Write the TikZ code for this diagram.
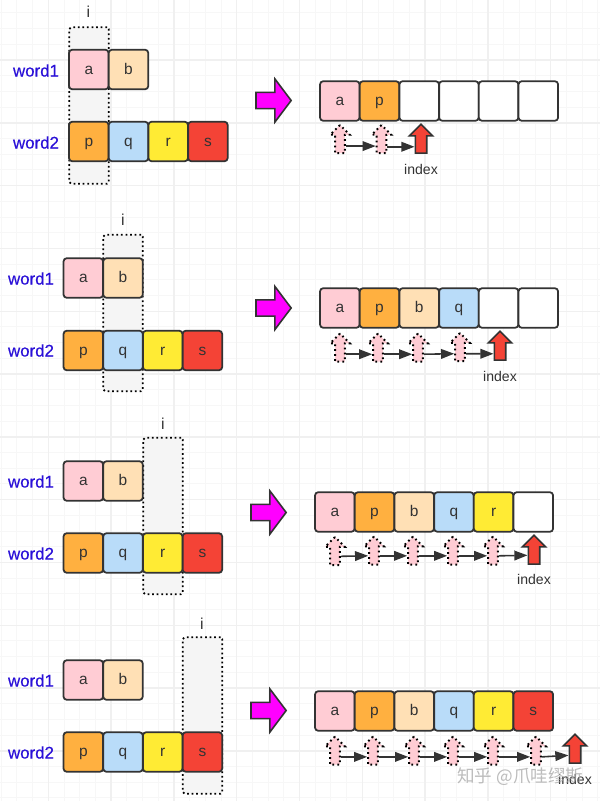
\documentclass[tikz,border=0pt]{standalone}
\usepackage{fontspec}
\setmainfont{Liberation Sans}
\newfontfamily\wordfont[FakeBold=0.4]{Liberation Sans}
\newfontfamily\markfont{Noto Sans CJK SC}
\usetikzlibrary{arrows.meta,shapes.arrows}
\definecolor{edge}{HTML}{333333}
\definecolor{wordblue}{HTML}{2A10D8}
\definecolor{cella}{HTML}{FFCCD4}
\definecolor{cellb}{HTML}{FFE0B5}
\definecolor{cellp}{HTML}{FFB040}
\definecolor{cellq}{HTML}{B9DCF9}
\definecolor{cellr}{HTML}{FFEB34}
\definecolor{cells}{HTML}{F44336}
\definecolor{pushcol}{HTML}{FF00FF}
\tikzset{
  gridminor/.style={draw=black!3,line width=0.5pt},
  gridmajor/.style={draw=black!6,line width=0.8pt},
  cell/.style={draw=edge,line width=1pt,rounded corners=1.8pt,minimum size=22.5pt,inner sep=0pt,font=\fontsize{8.8}{10}\selectfont,text=edge,text height=6pt,text depth=0.6pt},
  window/.style={draw=black,line width=1pt,dash pattern=on 1pt off 1.6pt,fill=black!4,rounded corners=1pt,minimum width=22.5pt,minimum height=89pt,inner sep=0pt},
  wordlabel/.style={text=wordblue,font=\wordfont\fontsize{9.6}{11}\selectfont,inner sep=0pt},
  ilabel/.style={text=edge,font=\fontsize{9}{10}\selectfont,inner sep=0pt},
  indexlabel/.style={text=edge,font=\fontsize{8}{10}\selectfont,inner sep=0pt},
  bigarrow/.style={single arrow,draw=edge,line width=0.9pt,fill=pushcol,minimum height=20pt,minimum width=23.5pt,inner sep=4.2pt,single arrow head extend=7.6pt,single arrow tip angle=106},
  upred/.style={single arrow,shape border rotate=90,draw=edge,line width=0.9pt,fill=cells,minimum height=16.5pt,minimum width=12.5pt,inner sep=2.8pt,single arrow head extend=3.4pt},
  ghost/.style={single arrow,shape border rotate=90,draw=black,line width=1.1pt,dash pattern=on 1pt off 1.8pt,fill=cella,minimum height=16pt,minimum width=10pt,inner sep=2.2pt,single arrow head extend=2.8pt},
  hop/.style={-{Triangle[length=7.5pt,width=5.5pt]},draw=edge,line width=0.9pt}
}
\begin{document}
\begin{tikzpicture}[x=0.02cm,y=-0.02cm]
\useasboundingbox (0,0) rectangle (600,801);
\fill[white] (0,0) rectangle (600,801);
% grid paper
\foreach \k in {0,...,38} \draw[gridminor] ({1.2+15.7*\k},0) -- ({1.2+15.7*\k},801);
\foreach \k in {1,...,51} \draw[gridminor] (0,{-2.8+15.7*\k}) -- (600,{-2.8+15.7*\k});
\foreach \k in {0,...,9} \draw[gridmajor] ({48.3+62.8*\k},0) -- ({48.3+62.8*\k},801);
\foreach \k in {1,...,12} \draw[gridmajor] (0,{-2.8+62.8*\k}) -- (600,{-2.8+62.8*\k});

% first step
\node[window] (win1) at (89,105.5) {};
\node[ilabel] (i1) at (88.5,12) {i};
\node[wordlabel] (wa1) at (36,70.5) {word1};
\node[wordlabel] (wb1) at (36,142.5) {word2};
\node[cell,fill=cella] (a1) at (88.8,69.5) {a};
\node[cell,fill=cellb] (b1) at (128.5,69.5) {b};
\node[cell,fill=cellp] (p1) at (88.8,141.5) {p};
\node[cell,fill=cellq] (q1) at (128.5,141.5) {q};
\node[cell,fill=cellr] (r1) at (168.2,141.5) {r};
\node[cell,fill=cells] (s1) at (207.9,141.5) {s};
\node[bigarrow] (go1) at (270.5,100.5) {};
\node[cell,fill=cella] (ma1) at (339.8,101) {a};
\node[cell,fill=cellp] (mb1) at (379.5,101) {p};
\node[cell,fill=white] (mc1) at (419.2,101) {};
\node[cell,fill=white] (md1) at (458.9,101) {};
\node[cell,fill=white] (me1) at (498.6,101) {};
\node[cell,fill=white] (mf1) at (538.3,101) {};
\node[ghost] (ga1) at (340,141.5) {};
\node[ghost] (gb1) at (381.5,141.5) {};
\node[upred] (idx1) at (421,141.5) {};
\node[indexlabel] (il1) at (421,169) {index};
\draw[hop] ([yshift=-2.6pt]ga1.east) -- ([yshift=-2.6pt]gb1.west);
\draw[hop] ([yshift=-3pt]gb1.east) -- ([yshift=-3pt]idx1.west);

% second step
\node[window] (win2) at (123,313) {};
\node[ilabel] (i2) at (123,220) {i};
\node[wordlabel] (wa2) at (31,278.5) {word1};
\node[wordlabel] (wb2) at (31,350.5) {word2};
\node[cell,fill=cella] (a2) at (83.3,278) {a};
\node[cell,fill=cellb] (b2) at (123,278) {b};
\node[cell,fill=cellp] (p2) at (83.3,350.5) {p};
\node[cell,fill=cellq] (q2) at (123,350.5) {q};
\node[cell,fill=cellr] (r2) at (162.7,350.5) {r};
\node[cell,fill=cells] (s2) at (202.4,350.5) {s};
\node[bigarrow] (go2) at (270.5,308) {};
\node[cell,fill=cella] (ma2) at (339.8,308) {a};
\node[cell,fill=cellp] (mb2) at (379.5,308) {p};
\node[cell,fill=cellb] (mc2) at (419.2,308) {b};
\node[cell,fill=cellq] (md2) at (458.9,308) {q};
\node[cell,fill=white] (me2) at (498.6,308) {};
\node[cell,fill=white] (mf2) at (538.3,308) {};
\node[ghost] (ga2) at (340,350) {};
\node[ghost] (gb2) at (378,350) {};
\node[ghost] (gc2) at (418,350) {};
\node[ghost] (gd2) at (460,349.5) {};
\node[upred] (idx2) at (500,348.5) {};
\node[indexlabel] (il2) at (500,376) {index};
\draw[hop] ([yshift=-2.4pt]ga2.east) -- ([yshift=-2.4pt]gb2.west);
\draw[hop] ([yshift=-2.4pt]gb2.east) -- ([yshift=-2.4pt]gc2.west);
\draw[hop] ([yshift=-2.4pt]gc2.east) -- ([yshift=-2.4pt]gd2.west);
\draw[hop] ([yshift=-2.4pt]gd2.east) -- ([yshift=-3pt]idx2.west);

% third step
\node[window] (win3) at (163,516) {};
\node[ilabel] (i3) at (163,424) {i};
\node[wordlabel] (wa3) at (31,481.5) {word1};
\node[wordlabel] (wb3) at (31,553.5) {word2};
\node[cell,fill=cella] (a3) at (83.3,481) {a};
\node[cell,fill=cellb] (b3) at (123,481) {b};
\node[cell,fill=cellp] (p3) at (83.3,553) {p};
\node[cell,fill=cellq] (q3) at (123,553) {q};
\node[cell,fill=cellr] (r3) at (162.7,553) {r};
\node[cell,fill=cells] (s3) at (202.4,553) {s};
\node[bigarrow] (go3) at (265.5,512.5) {};
\node[cell,fill=cella] (ma3) at (334.8,512) {a};
\node[cell,fill=cellp] (mb3) at (374.5,512) {p};
\node[cell,fill=cellb] (mc3) at (414.2,512) {b};
\node[cell,fill=cellq] (md3) at (453.9,512) {q};
\node[cell,fill=cellr] (me3) at (493.6,512) {r};
\node[cell,fill=white] (mf3) at (533.3,512) {};
\node[ghost] (ga3) at (335,553.5) {};
\node[ghost] (gb3) at (374,553) {};
\node[ghost] (gc3) at (413,553) {};
\node[ghost] (gd3) at (453,553) {};
\node[ghost] (ge3) at (493,553) {};
\node[upred] (idx3) at (534,552.5) {};
\node[indexlabel] (il3) at (534,579) {index};
\draw[hop] ([yshift=-1.6pt]ga3.east) -- ([yshift=-1.6pt]gb3.west);
\draw[hop] ([yshift=-1.6pt]gb3.east) -- ([yshift=-1.6pt]gc3.west);
\draw[hop] ([yshift=-1.6pt]gc3.east) -- ([yshift=-1.6pt]gd3.west);
\draw[hop] ([yshift=-1.6pt]gd3.east) -- ([yshift=-1.6pt]ge3.west);
\draw[hop] ([yshift=-1.6pt]ge3.east) -- ([yshift=-1.6pt]idx3.west);

% fourth step
\node[window] (win4) at (202.5,715.5) {};
\node[ilabel] (i4) at (202,624) {i};
\node[wordlabel] (wa4) at (31,680.5) {word1};
\node[wordlabel] (wb4) at (31,752.5) {word2};
\node[cell,fill=cella] (a4) at (83.3,680) {a};
\node[cell,fill=cellb] (b4) at (123,680) {b};
\node[cell,fill=cellp] (p4) at (83.3,752) {p};
\node[cell,fill=cellq] (q4) at (123,752) {q};
\node[cell,fill=cellr] (r4) at (162.7,752) {r};
\node[cell,fill=cells] (s4) at (202.4,752) {s};
\node[bigarrow] (go4) at (265.5,710.5) {};
\node[cell,fill=cella] (ma4) at (334.8,711) {a};
\node[cell,fill=cellp] (mb4) at (374.5,711) {p};
\node[cell,fill=cellb] (mc4) at (414.2,711) {b};
\node[cell,fill=cellq] (md4) at (453.9,711) {q};
\node[cell,fill=cellr] (me4) at (493.6,711) {r};
\node[cell,fill=cells] (mf4) at (533.3,711) {s};
\node[ghost] (ga4) at (335,753) {};
\node[ghost] (gb4) at (373,753) {};
\node[ghost] (gc4) at (414,753) {};
\node[ghost] (gd4) at (453,753) {};
\node[ghost] (ge4) at (493,753) {};
\node[ghost] (gf4) at (536,753) {};
\node[upred] (idx4) at (575,751.5) {};
\node[indexlabel] (il4) at (575,779) {index};
\draw[hop] ([yshift=-2.2pt]ga4.east) -- ([yshift=-2.2pt]gb4.west);
\draw[hop] ([yshift=-2.2pt]gb4.east) -- ([yshift=-2.2pt]gc4.west);
\draw[hop] ([yshift=-2.2pt]gc4.east) -- ([yshift=-2.2pt]gd4.west);
\draw[hop] ([yshift=-2.2pt]gd4.east) -- ([yshift=-2.2pt]ge4.west);
\draw[hop] ([yshift=-2.2pt]ge4.east) -- ([yshift=-2.2pt]gf4.west);
\draw[hop] ([yshift=-2.2pt]gf4.east) -- ([yshift=-2.2pt]idx4.west);

% site mark
\node[text=black!35,opacity=0.75,font=\markfont\fontsize{10}{12}\selectfont,inner sep=0pt,anchor=west] (mark) at (457,777) {知乎 @爪哇缪斯};
\end{tikzpicture}
\end{document}
